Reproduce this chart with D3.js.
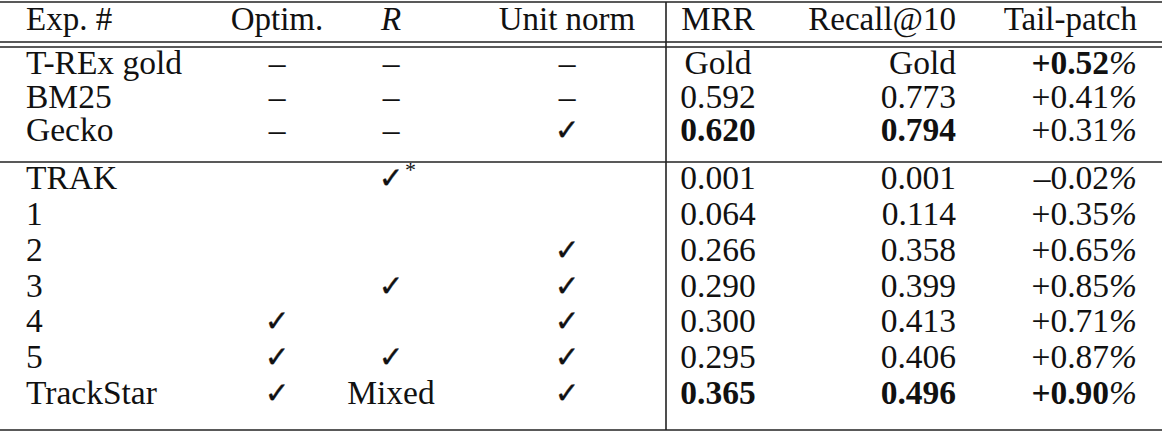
<!DOCTYPE html>
<html>
<head>
<meta charset="utf-8">
<title>table</title>
<style>
  body { margin: 0; background: #fff; }
  svg text { font-family: "Liberation Serif", "DejaVu Serif", serif; fill: #111; }
</style>
</head>
<body>
<div id="container"></div>
<script src="https://cdn.jsdelivr.net/npm/d3@7"></script>
<script>
var headers = ["Exp. #", "Optim.", "R", "Unit norm", "MRR", "Recall@10", "Tail-patch"];
var experiments = ["T-REx gold", "BM25", "Gecko", "TRAK", "1", "2", "3", "4", "5", "TrackStar"];
var optim = ["–", "–", "–", "", "", "", "", "✓", "✓", "✓"];
var rCol = ["–", "–", "–", "✓*", "", "", "✓", "", "✓", "Mixed"];
var unitNorm = ["–", "–", "✓", "", "", "✓", "✓", "✓", "✓", "✓"];
var mrr = ["Gold", "0.592", "0.620", "0.001", "0.064", "0.266", "0.290", "0.300", "0.295", "0.365"];
var recall = ["Gold", "0.773", "0.794", "0.001", "0.114", "0.358", "0.399", "0.413", "0.406", "0.496"];
var tailPatch = ["+0.52", "+0.41", "+0.31", "–0.02", "+0.35", "+0.65", "+0.85", "+0.71", "+0.87", "+0.90"];
var boldMrr = [2, 9];
var boldRecall = [2, 9];
var boldTail = [0, 9];

var width = 1162, height = 434;
var fs = 33.5;

var svg = d3.select("#container").append("svg")
  .attr("width", width)
  .attr("height", height);

// rows: upper block (baselines) and lower block
var yTop = d3.scaleLinear().domain([0, 2]).range([74, 141]);
var yBot = d3.scaleLinear().domain([3, 9]).range([189, 404]);
function rowY(i) { return i < 3 ? yTop(i) : yBot(i); }

// column anchors
var cols = [
  {x: 26, anchor: "start"},
  {x: 277, anchor: "middle"},
  {x: 391, anchor: "middle"},
  {x: 567, anchor: "middle"},
  {x: 718, anchor: "middle"},
  {x: 956, anchor: "end"},
  {x: 1137, anchor: "end"}
];

// rules
function hline(y, w) {
  svg.append("line").attr("x1", 0).attr("x2", width)
    .attr("y1", y).attr("y2", y)
    .attr("stroke", "#222").attr("stroke-width", w || 1.6);
}
hline(2);
hline(42);
hline(47);
hline(162);
hline(430);
svg.append("line").attr("x1", 666).attr("x2", 666)
  .attr("y1", 2).attr("y2", 430)
  .attr("stroke", "#222").attr("stroke-width", 1.6);

// header
svg.selectAll(".hd").data(headers).enter().append("text")
  .attr("class", "hd")
  .attr("x", function(d, i) { return cols[i].x; })
  .attr("y", 30)
  .attr("text-anchor", function(d, i) { return cols[i].anchor; })
  .style("font-size", "33px")
  .style("font-style", function(d) { return d == "R" ? "italic" : "normal"; })
  .text(function(d) { return d; });

function addCell(col, val, i, bold) {
  var t = svg.append("text")
    .attr("x", cols[col].x)
    .attr("y", rowY(i))
    .attr("text-anchor", cols[col].anchor)
    .style("font-size", fs + "px")
    .style("font-weight", bold ? "bold" : "normal");
  return t;
}

function addMark(col, val, i) {
  if (val == "") return;
  if (val == "✓" || val == "✓*") {
    svg.append("text")
      .attr("x", cols[col].x)
      .attr("y", rowY(i) - 1)
      .attr("text-anchor", "middle")
      .style("font-family", "DejaVu Sans")
      .style("font-size", "29.5px")
      .style("stroke", "#111").style("stroke-width", 0.4)
      .text("✓");
    if (val == "✓*") {
      svg.append("text")
        .attr("x", cols[col].x + 14)
        .attr("y", rowY(i) - 12)
        .style("font-size", "22px")
        .text("*");
    }
  } else {
    addCell(col, val, i, false).text(val);
  }
}

experiments.forEach(function(d, i) {
  addCell(0, d, i, false).text(d);
  addMark(1, optim[i], i);
  addMark(2, rCol[i], i);
  addMark(3, unitNorm[i], i);
  addCell(4, mrr[i], i, boldMrr.indexOf(i) >= 0).text(mrr[i]);
  addCell(5, recall[i], i, boldRecall.indexOf(i) >= 0).text(recall[i]);
  var t = addCell(6, tailPatch[i], i, boldTail.indexOf(i) >= 0);
  t.append("tspan").text(tailPatch[i]);
  t.append("tspan").style("font-weight", "normal").style("font-style", "italic").text("%");
});
</script>
</body>
</html>
